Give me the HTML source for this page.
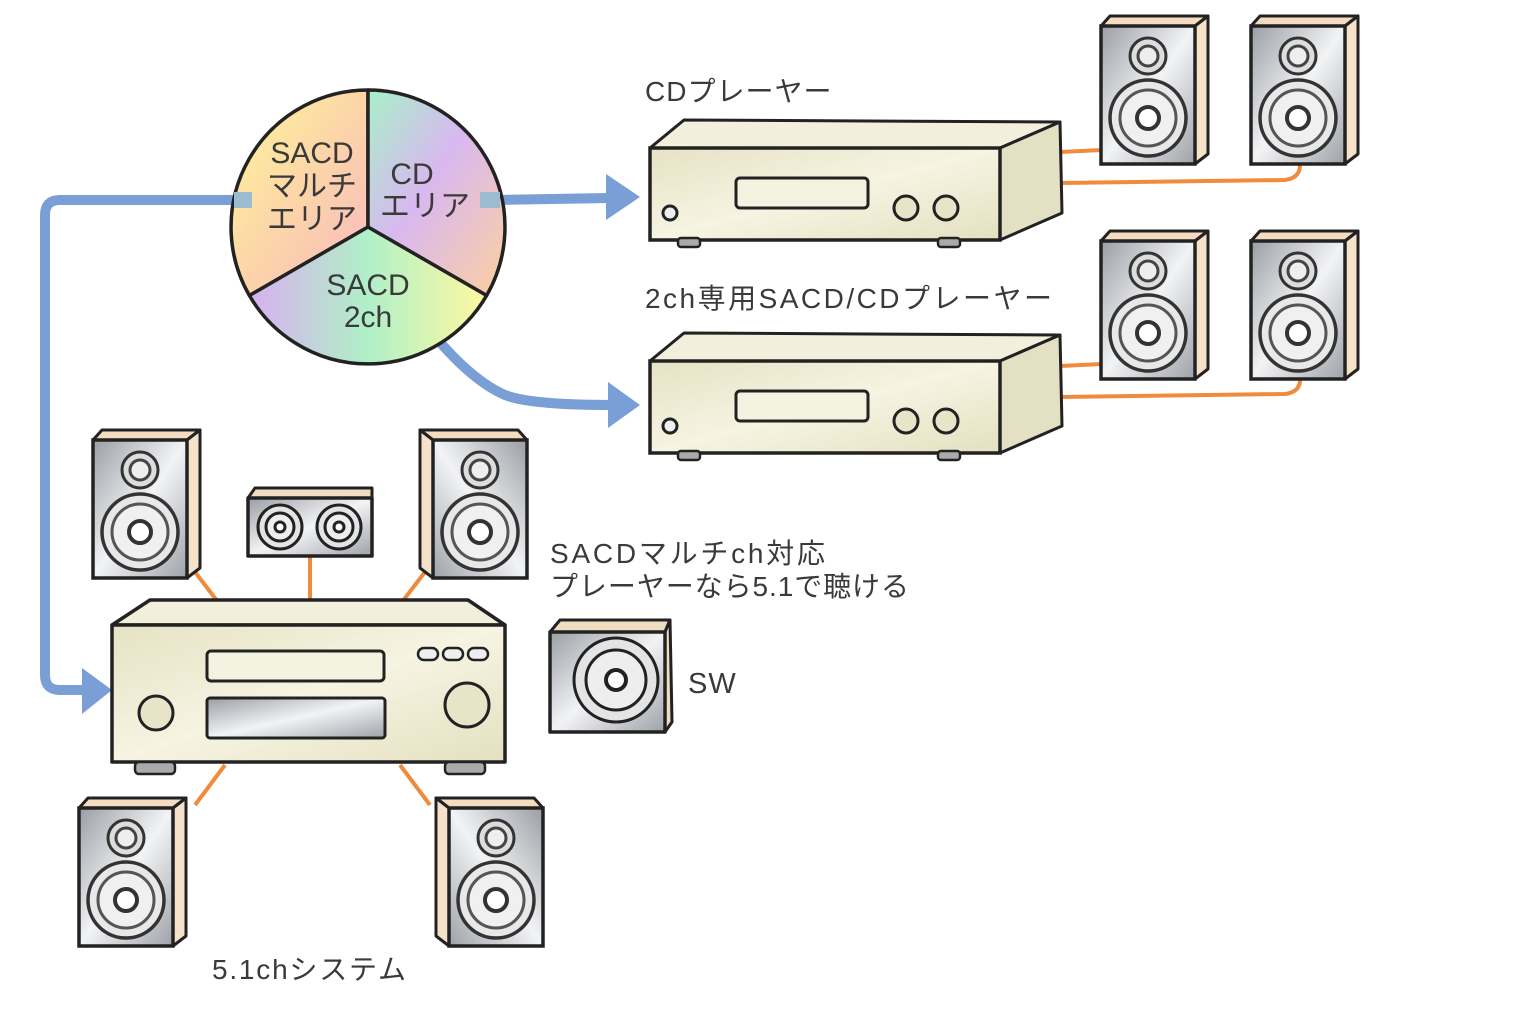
<!DOCTYPE html>
<html><head><meta charset="utf-8"><style>
html,body{margin:0;padding:0;background:#fff;}
text{font-family:"Liberation Sans","Noto Sans CJK JP",sans-serif;fill:#3a3a3a;}
</style></head><body>
<svg width="1536" height="1024" viewBox="0 0 1536 1024" xmlns="http://www.w3.org/2000/svg">
<defs>
<linearGradient id="gray" x1="0" y1="0" x2="1" y2="1">
<stop offset="0" stop-color="#9a9ea4"/><stop offset="0.5" stop-color="#f2f3f5"/><stop offset="1" stop-color="#9ea2a8"/></linearGradient>
<linearGradient id="beige" x1="0" y1="0" x2="1" y2="1">
<stop offset="0" stop-color="#e6e2c4"/><stop offset="0.5" stop-color="#f6f4e2"/><stop offset="1" stop-color="#e4e0c0"/></linearGradient>
<linearGradient id="g1" x1="0" y1="0" x2="1" y2="1"><stop offset="0" stop-color="#fff79a"/><stop offset="0.5" stop-color="#fcd5a8"/><stop offset="1" stop-color="#f8b8c0"/></linearGradient>
<linearGradient id="g2" x1="0" y1="0" x2="1" y2="1"><stop offset="0" stop-color="#a8f0c8"/><stop offset="0.45" stop-color="#d8b8f0"/><stop offset="1" stop-color="#fcd0a0"/></linearGradient>
<linearGradient id="g3" x1="0" y1="0" x2="1" y2="0"><stop offset="0" stop-color="#d8b0f0"/><stop offset="0.5" stop-color="#b0f0c8"/><stop offset="1" stop-color="#fff8a0"/></linearGradient>
<symbol id="spk" viewBox="0 0 112 152" overflow="visible">
<polygon points="3,12 12,2 110,2 97,12" fill="#f5dcc0" stroke="#222" stroke-width="3" stroke-linejoin="round"/>
<polygon points="97,12 110,2 110,140 97,150" fill="#f6e2c8" stroke="#222" stroke-width="3" stroke-linejoin="round"/>
<rect x="3" y="12" width="94" height="138" fill="url(#gray)" stroke="#222" stroke-width="3.5"/>
<circle cx="50" cy="42" r="18" fill="#ddd" stroke="#333" stroke-width="3"/>
<circle cx="50" cy="42" r="10" fill="#eee" stroke="#444" stroke-width="3"/>
<circle cx="50" cy="104" r="38" fill="#e8e8e8" stroke="#333" stroke-width="3.5"/>
<circle cx="50" cy="104" r="28" fill="#f0f0f0" stroke="#555" stroke-width="3"/>
<circle cx="50" cy="104" r="11" fill="#fff" stroke="#333" stroke-width="4"/>
</symbol>
<symbol id="player" viewBox="0 0 420 135" overflow="visible">
<polygon points="2,30 36,2 412,4 352,30" fill="#f2f0dc" stroke="#222" stroke-width="3" stroke-linejoin="round"/>
<polygon points="352,30 412,4 414,95 352,122" fill="#e4e0c4" stroke="#222" stroke-width="3" stroke-linejoin="round"/>
<rect x="2" y="30" width="350" height="92" fill="url(#beige)" stroke="#222" stroke-width="3.5"/>
<rect x="88" y="60" width="132" height="30" rx="4" fill="#f4f2e0" stroke="#222" stroke-width="3"/>
<circle cx="22" cy="95" r="7" fill="#eee" stroke="#222" stroke-width="3"/>
<circle cx="258" cy="90" r="12" fill="#e8e4c8" stroke="#222" stroke-width="3"/>
<circle cx="298" cy="90" r="12" fill="#e8e4c8" stroke="#222" stroke-width="3"/>
<rect x="30" y="120" width="22" height="9" rx="3" fill="#aaa" stroke="#222" stroke-width="2.5"/>
<rect x="290" y="120" width="22" height="9" rx="3" fill="#aaa" stroke="#222" stroke-width="2.5"/>
</symbol>
</defs>

<g stroke="#f08a3c" stroke-width="4" fill="none">
<path d="M1060,152 L1102,150"/>
<path d="M1060,183 L1285,180 Q1300,178 1300,165"/>
<path d="M1060,366 L1102,364"/>
<path d="M1060,397 L1285,394 Q1300,392 1300,380"/>
<path d="M195,572 L218,602"/><path d="M310,556 L310,602"/><path d="M425,572 L402,602"/>
<path d="M225,765 L195,805"/><path d="M400,765 L430,805"/>
</g>

<g stroke="#7a9ed6" stroke-width="10" fill="none" stroke-linecap="round" stroke-linejoin="round">
<path d="M238,200 L60,200 Q45,200 45,215 L45,675 Q45,690 60,690 L85,690"/>
<path d="M495,200 L610,198"/>
<path d="M428,328 Q470,380 505,395 Q530,405 612,405"/>
</g>
<g fill="#7a9ed6">
<polygon points="82,668 112,690 82,714"/>
<polygon points="606,174 640,197 606,220"/>
<polygon points="608,382 640,405 608,428"/>
</g>

<g stroke="#222" stroke-width="3.5" stroke-linejoin="round">
<path d="M368,227 L368,90 A137,137 0 0 0 249.4,295.5 Z" fill="url(#g1)"/>
<path d="M368,227 L368,90 A137,137 0 0 1 486.6,295.5 Z" fill="url(#g2)"/>
<path d="M368,227 L486.6,295.5 A137,137 0 0 1 249.4,295.5 Z" fill="url(#g3)"/>
</g>
<g fill="#9bbcd0"><rect x="234" y="192" width="18" height="16"/><rect x="480" y="192" width="20" height="16"/></g>
<g font-size="30" text-anchor="middle">
<text x="312" y="163">SACD</text><text x="312" y="196">マルチ</text><text x="312" y="229">エリア</text>
<text x="412" y="184">CD</text><text x="425" y="216">エリア</text>
<text x="368" y="295">SACD</text><text x="368" y="327">2ch</text>
</g>

<use href="#player" x="648" y="118" width="420" height="135"/>
<use href="#player" x="648" y="331" width="420" height="135"/>

<use href="#spk" x="1098" y="14" width="112" height="152"/>
<use href="#spk" x="1248" y="14" width="112" height="152"/>
<use href="#spk" x="1098" y="229" width="112" height="152"/>
<use href="#spk" x="1248" y="229" width="112" height="152"/>
<use href="#spk" x="90" y="428" width="112" height="152"/>
<use href="#spk" x="-530" y="428" width="112" height="152" transform="scale(-1,1)"/>
<use href="#spk" x="76" y="796" width="112" height="152"/>
<use href="#spk" x="-546" y="796" width="112" height="152" transform="scale(-1,1)"/>

<g stroke="#222" stroke-width="3" stroke-linejoin="round">
<polygon points="248,498 255,488 372,488 372,498" fill="#f0dcc0"/>
<rect x="248" y="498" width="124" height="58" fill="url(#gray)" stroke-width="3.5"/>
<circle cx="280" cy="527" r="22" fill="#e4e4e4"/><circle cx="280" cy="527" r="14" fill="#eee"/><circle cx="280" cy="527" r="5" fill="#fff"/>
<circle cx="339" cy="527" r="22" fill="#e4e4e4"/><circle cx="339" cy="527" r="14" fill="#eee"/><circle cx="339" cy="527" r="5" fill="#fff"/>
</g>

<g stroke="#222" stroke-width="3" stroke-linejoin="round">
<polygon points="550,632 560,620 670,620 665,632" fill="#f0dcc0"/>
<polygon points="665,632 670,620 672,722 665,732" fill="#f0dcc0"/>
<rect x="550" y="632" width="115" height="100" fill="url(#gray)" stroke-width="3.5"/>
<circle cx="616" cy="680" r="42" fill="#e4e4e4"/><circle cx="616" cy="680" r="30" fill="#eee"/><circle cx="616" cy="680" r="10" fill="#fff" stroke-width="4"/>
</g>

<g stroke="#222" stroke-width="3.5" stroke-linejoin="round">
<polygon points="112,625 150,600 468,600 505,625" fill="#f2f0dc"/>
<rect x="112" y="625" width="393" height="137" fill="url(#beige)"/>
<rect x="207" y="651" width="177" height="30" rx="4" fill="#f4f2e0" stroke-width="3"/>
<rect x="207" y="698" width="178" height="40" rx="3" fill="url(#gray)" stroke-width="3"/>
<rect x="418" y="648" width="20" height="12" rx="6" fill="#eee" stroke-width="2.5"/>
<rect x="443" y="648" width="20" height="12" rx="6" fill="#eee" stroke-width="2.5"/>
<rect x="468" y="648" width="20" height="12" rx="6" fill="#eee" stroke-width="2.5"/>
<circle cx="156" cy="713" r="17" fill="#e8e4c8" stroke-width="3"/>
<circle cx="467" cy="705" r="22" fill="#e8e4c8" stroke-width="3"/>
<rect x="135" y="762" width="40" height="12" rx="4" fill="#aaa" stroke-width="2.5"/>
<rect x="445" y="762" width="40" height="12" rx="4" fill="#aaa" stroke-width="2.5"/>
</g>

<g font-size="28" letter-spacing="1">
<text x="645" y="101">CDプレーヤー</text>
<text x="645" y="308" textLength="408">2ch専用SACD/CDプレーヤー</text>
<text x="550" y="563" textLength="276">SACDマルチch対応</text>
<text x="550" y="596" textLength="360">プレーヤーなら5.1で聴ける</text>
<text x="688" y="693" font-size="29">SW</text>
<text x="212" y="979" textLength="195">5.1chシステム</text>
</g>
</svg>
</body></html>
